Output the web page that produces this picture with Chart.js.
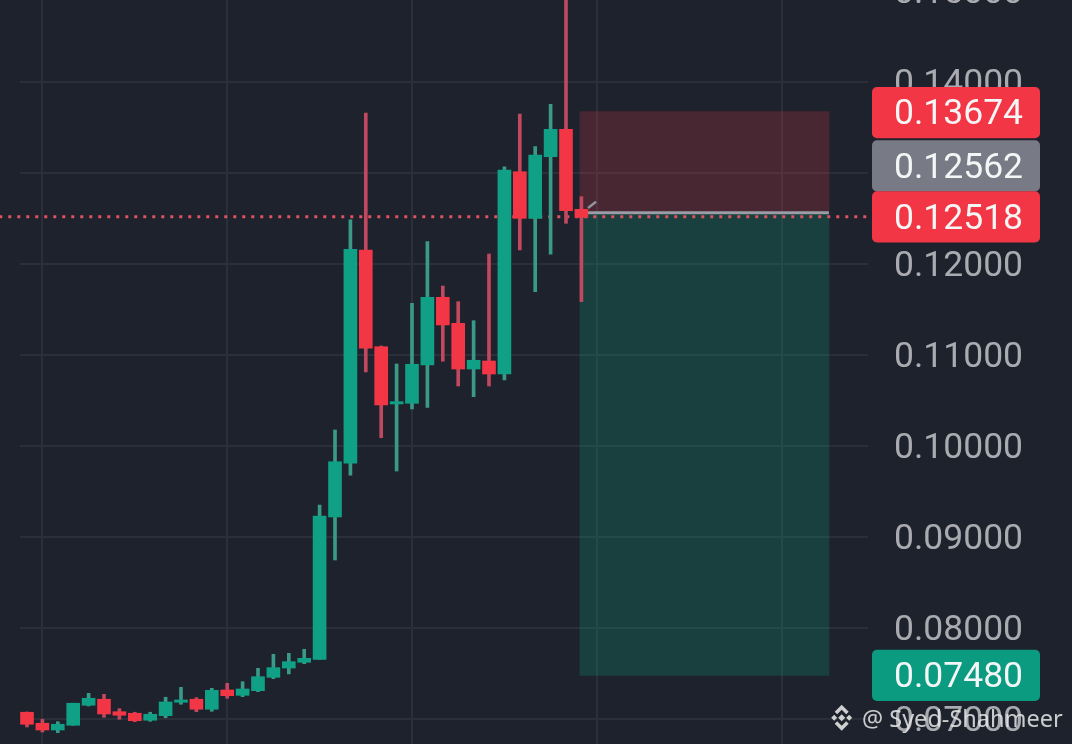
<!DOCTYPE html>
<html>
<head>
<meta charset="utf-8">
<style>
html,body{margin:0;padding:0;width:1072px;height:744px;overflow:hidden;background:#1e222d;}
#c{position:absolute;left:0;top:-40px;}
</style>
<script src="https://cdn.jsdelivr.net/npm/chart.js@4"></script>
</head>
<body>
<canvas id="c" width="1072" height="824"></canvas>
<script>
const opens =[.07074,.06953,.06879,.06931,.07151,.07217,.07080,.07063,.06986,.07036,.07184,.07217,.07107,.07319,.07260,.07311,.07458,.07560,.07623,.07656,.09220,.09810,.12154,.11091,.10462,.10469,.10890,.11634,.11348,.10846,.10934,.10791,.13014,.12502,.13179,.13480,.12601];
const highs =[.07077,.06997,.06970,.07173,.07282,.07271,.07113,.07074,.07074,.07239,.07348,.07234,.07337,.07392,.07410,.07557,.07711,.07722,.07766,.09352,.10176,.12484,.13659,.11099,.10901,.11568,.12245,.11758,.11586,.11377,.12110,.13069,.13648,.13289,.13755,.14950,.12740];
const lows  =[.06912,.06857,.06850,.06931,.07143,.07019,.06997,.06970,.06975,.07014,.07162,.07080,.07085,.07228,.07245,.07300,.07443,.07495,.07608,.07656,.08747,.09678,.10813,.10091,.09725,.10407,.10425,.10931,.10659,.10542,.10659,.10725,.12154,.11696,.12107,.12447,.11586];
const closes=[.06942,.06879,.06942,.07173,.07228,.07055,.07041,.06981,.07052,.07187,.07209,.07107,.07315,.07256,.07330,.07465,.07564,.07630,.07667,.09231,.09827,.12162,.11074,.10451,.10487,.10898,.11634,.11330,.10846,.10942,.10791,.13033,.12502,.13198,.13480,.12586,.12513];
const priceTicks=[.07,.08,.09,.10,.11,.12,.13,.14,.15];
const timeTicks=[1,13,25,37,49];
const stopPrice=.13674, entryPrice=.12562, lastPrice=.12518, targetPrice=.07480;
const boxCentre=43.99;
const entryLineX=[35.9,52.07];
const markerX=[36.43,36.95];
const markerY=[.12615,.12685];
const guideX=[-1.8,54.61];
const tags=[
 {text:'0.13674',value:stopPrice,color:'#f23645',shift:0.9},
 {text:'0.12562',value:entryPrice,color:'#787b86',shift:-47},
 {text:'0.12518',value:lastPrice,color:'#f23645',shift:0},
 {text:'0.07480',value:targetPrice,color:'#0b9b81',shift:0}
];
const UP='#10a085',DOWN='#f23645',UPW='#3a9a88',DOWNW='#c0485f';
const idx=opens.map((_,i)=>i);
const isUp=i=>closes[i]>=opens[i];
const wickData=idx.map(i=>({x:i,y:[lows[i],highs[i]]}));
const bodyData=idx.map(i=>({x:i,y:[Math.min(opens[i],closes[i]),Math.max(opens[i],closes[i])]}));

const overlay={id:'overlay',afterDraw(chart){
  const ctx=chart.ctx,y=chart.scales.y;
  ctx.save();
  tags.forEach(t=>{
    const cy=y.getPixelForValue(t.value)+t.shift;
    ctx.beginPath();ctx.roundRect(872,cy-25.6,168,51.2,5);ctx.fillStyle=t.color;ctx.fill();
    ctx.fillStyle='#f4f6f6';ctx.font='35.5px Roboto';ctx.textAlign='left';ctx.textBaseline='middle';
    ctx.fillText(t.text,894,cy+3);
  });
  // watermark
  const lx=841.7,ly=757.7;
  ctx.fillStyle='rgba(226,226,226,0.9)';
  const poly=p=>{ctx.beginPath();p.forEach((q,i)=>i?ctx.lineTo(lx+q[0],ly+q[1]):ctx.moveTo(lx+q[0],ly+q[1]));ctx.closePath();ctx.fill();};
  poly([[0,-3.5],[3.5,0],[0,3.5],[-3.5,0]]);
  poly([[-10.5,0],[-7.5,-3],[-4.5,0],[-7.5,3]]);
  poly([[10.5,0],[7.5,-3],[4.5,0],[7.5,3]]);
  poly([[0,-13],[7,-6],[4.5,-3.5],[0,-8],[-4.5,-3.5],[-7,-6]]);
  poly([[0,13],[7,6],[4.5,3.5],[0,8],[-4.5,3.5],[-7,6]]);
  ctx.font='23.5px "Noto Sans"';ctx.textAlign='left';ctx.textBaseline='alphabetic';
  ctx.fillStyle='rgba(226,226,226,0.88)';
  ctx.fillText('@ Syed-Shahmeer',862,767);
  ctx.restore();
}};

new Chart(document.getElementById('c'),{
  type:'bar',
  data:{datasets:[
    {type:'bar',label:'Stop',data:[{x:boxCentre,y:[entryPrice,stopPrice]}],backgroundColor:'rgba(242,54,69,0.2)',barThickness:249,grouped:false,order:7},
    {type:'bar',label:'Target',data:[{x:boxCentre,y:[targetPrice,entryPrice]}],backgroundColor:'rgba(10,150,115,0.25)',barThickness:249,grouped:false,order:6},
    {type:'line',label:'Last',data:guideX.map(x=>({x,y:lastPrice})),borderColor:'#e0525f',borderWidth:3,borderDash:[3,6],pointRadius:0,clip:false,order:5},
    {type:'line',label:'Entry',data:entryLineX.map(x=>({x,y:entryPrice})),borderColor:'#9a9da5',borderWidth:3,pointRadius:0,order:4},
    {type:'bar',label:'Wick',data:wickData,backgroundColor:idx.map(i=>isUp(i)?UPW:DOWNW),barThickness:3,grouped:false,order:3},
    {type:'bar',label:'Body',data:bodyData,backgroundColor:idx.map(i=>isUp(i)?UP:DOWN),barThickness:13,grouped:false,order:2},
    {type:'line',label:'Marker',data:markerX.map((x,i)=>({x,y:markerY[i]})),borderColor:'#8f929a',borderWidth:2.5,pointRadius:0,order:1}
  ]},
  options:{
    responsive:false,animation:false,devicePixelRatio:1,
    layout:{padding:{left:20,right:0,top:0,bottom:0}},
    plugins:{legend:{display:false},tooltip:{enabled:false}},
    scales:{
      x:{type:'linear',offset:false,min:-0.4545,max:54.61,
        afterBuildTicks(a){a.ticks=timeTicks.map(v=>({value:v}));},
        afterFit(a){a.height=0;a.paddingLeft=0;a.paddingRight=0;},
        border:{display:false},
        grid:{color:'#2b2f3a',lineWidth:2,drawTicks:false,offset:false},
        ticks:{display:false}},
      y:{type:'linear',position:'right',
        max:.14901+40*.00010989,min:.14901-784*.00010989,
        afterBuildTicks(a){a.ticks=priceTicks.map(v=>({value:v}));},
        afterFit(a){a.width=1072-868;a.paddingTop=0;a.paddingBottom=0;},
        border:{display:false},
        grid:{color:'#2b2f3a',lineWidth:2,drawTicks:false},
        ticks:{padding:26,labelOffset:3.5,color:'#a9abb0',font:{family:'Roboto',size:35.5},callback:v=>v.toFixed(5),autoSkip:false,maxRotation:0}}
    }
  },
  plugins:[overlay]
});
</script>
</body>
</html>
